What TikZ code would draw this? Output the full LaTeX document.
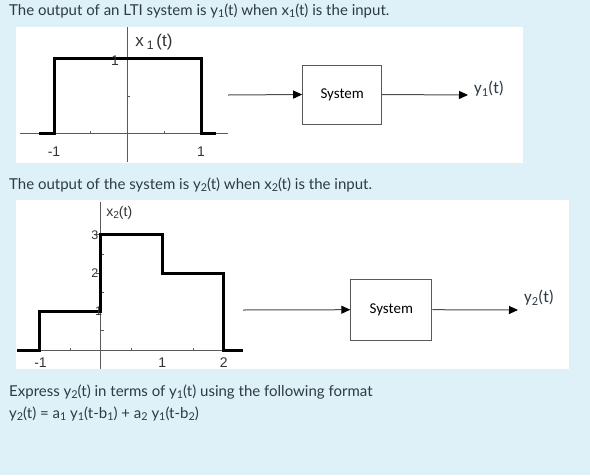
\documentclass[tikz,border=0pt]{standalone}
\usepackage{fontspec}
\usepackage{graphicx}
\setmainfont{Lato}
\newfontfamily\plotfont{Liberation Sans}
\newfontfamily\boxfont{Carlito}
\usetikzlibrary{positioning,arrows.meta}
\definecolor{PageBg}{RGB}{222,240,248}
\definecolor{InkText}{RGB}{45,59,69}
\definecolor{AxisGray}{RGB}{90,90,90}
\newcommand\lowidx[1]{\raisebox{-0.3ex}{\scalebox{0.72}{#1}}}
\tikzset{
  para/.style={anchor=base west,inner sep=0pt,text=InkText,font=\fontsize{15}{17}\selectfont},
  axisline/.style={draw=AxisGray,line width=0.8pt},
  signal/.style={draw=black,line width=3pt,line join=miter},
  ticklbl/.style={inner sep=1pt,font=\plotfont\fontsize{14}{14}\selectfont,text=black!80},
  sysbox/.style={draw=black!65,line width=1pt,fill=white,minimum width=79pt,
    minimum height=59pt,font=\boxfont\fontsize{15}{15}\selectfont},
  flow/.style={-{Triangle[length=9pt,width=8pt,color=black]},draw=black!70,line width=1pt},
  outlbl/.style={anchor=west,inner sep=0pt,font=\boxfont\fontsize{17}{17}\selectfont,text=InkText}
}
\begin{document}
\begin{tikzpicture}[x=1pt,y=-1pt]
  \fill[PageBg] (0,0) rectangle (590,475);
  \useasboundingbox (0,0) rectangle (590,475);

  % text lines
  \node[para] (title1) at (9,15) {The output of an LTI system is y\lowidx{1}(t) when x\lowidx{1}(t) is the input.};
  \node[para] (title2) at (9,189) {The output of the system is y\lowidx{2}(t) when x\lowidx{2}(t) is the input.};
  \node[para] (ask) at (9,396) {Express y\lowidx{2}(t) in terms of y\lowidx{1}(t) using the following format};
  \node[para] (form) at (9,418) {y\lowidx{2}(t) = a\lowidx{1} y\lowidx{1}(t-b\lowidx{1}) + a\lowidx{2} y\lowidx{1}(t-b\lowidx{2})};

  % white panels
  \fill[white] (16,27) rectangle (523,163);
  \fill[white] (16,200) rectangle (569,369);

  % first input x1(t)
  \begin{scope}[shift={(127.5,133.3)},x=73.5pt,y=74.6pt]
    \draw[axisline] (-1.46,0) -- (1.37,0);
    \draw[axisline] (0,1.42) -- (0,-0.39);
    \foreach \t in {-0.5,0.5} \draw[axisline] (\t,0) -- (\t,0.03);
    \draw[axisline] (0,0.5) -- (0.04,0.5);
    \draw[signal] (-1.2,0) -- (-1,0) -- (-1,1) -- (1,1) -- (1,0) -- (1.2,0);
    \node[ticklbl] (one1) at (-0.17,0.97) {1};
    \node[ticklbl] (mone1) at (-1,-0.25) {-1};
    \node[ticklbl] (pone1) at (1,-0.25) {1};
    \node[ticklbl,font=\plotfont\fontsize{17}{17}\selectfont] (xlbl1) at (0.36,1.22) {x\,\lowidx{1}\,(t)};
  \end{scope}

  \coordinate (in1) at (228,95);
  \node[sysbox] (sys1) at (342.2,94.5) {System};
  \coordinate (out1) at (468,95);
  \draw[flow] (in1) -- (sys1.west);
  \draw[flow] (sys1.east) -- (out1);
  \node[outlbl] (y1) at (474,89) {y\lowidx{1}(t)};

  % second input x2(t)
  \begin{scope}[shift={(100.8,350)},x=61.5pt,y=38.4pt]
    \draw[axisline] (-1.36,0) -- (2.31,0);
    \draw[axisline] (0,3.86) -- (0,-0.49);
    \foreach \t in {-0.5,0.5,1.5} \draw[axisline] (\t,0) -- (\t,0.05);
    \foreach \v in {0.5,1.5,2.5} \draw[axisline] (0,\v) -- (0.05,\v);
    \foreach \v in {1,2,3} \draw[axisline] (0,\v) -- (-0.08,\v);
    \draw[signal] (-1.36,0) -- (-1,0) -- (-1,1) -- (0,1) -- (0,3) -- (1,3) -- (1,2) -- (2,2) -- (2,0) -- (2.31,0);
    \node[ticklbl,anchor=east,font=\plotfont\fontsize{12.5}{12.5}\selectfont] (three2) at (-0.02,3) {3};
    \node[ticklbl,anchor=east,font=\plotfont\fontsize{12.5}{12.5}\selectfont] (two2) at (-0.02,2) {2};
    \node[ticklbl,anchor=east,font=\plotfont\fontsize{12.5}{12.5}\selectfont] (one2) at (0.04,1) {1};
    \node[ticklbl] (mone2) at (-0.98,-0.33) {-1};
    \node[ticklbl] (pone2) at (1,-0.33) {1};
    \node[ticklbl] (ptwo2) at (2,-0.33) {2};
    \node[ticklbl,font=\plotfont\fontsize{14}{14}\selectfont] (xlbl2) at (0.3,3.58) {x\lowidx{2}(t)};
  \end{scope}

  \coordinate (in2) at (243,310);
  \node[sysbox,minimum width=81pt,minimum height=61pt] (sys2) at (391.3,309.7) {System};
  \coordinate (out2) at (518,310);
  \draw[flow] (in2) -- (sys2.west);
  \draw[flow] (sys2.east) -- (out2);
  \node[outlbl] (y2) at (524,298) {y\lowidx{2}(t)};
\end{tikzpicture}
\end{document}
